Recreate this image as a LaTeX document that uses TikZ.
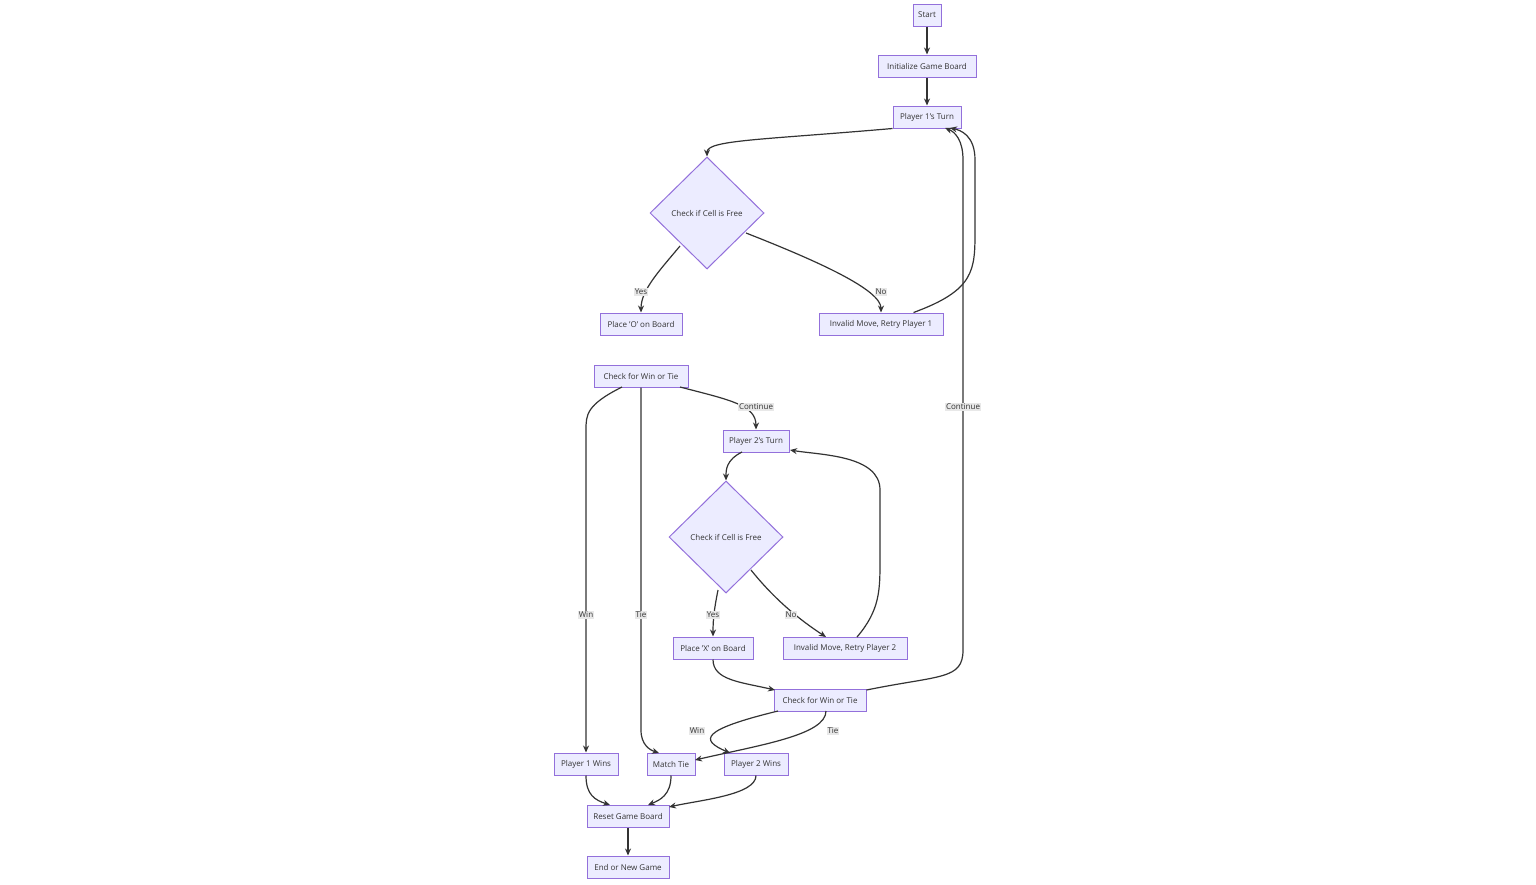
\documentclass[tikz,border=0pt]{standalone}
\usepackage{fontspec}
\setmainfont{Open Sans}
\usetikzlibrary{shapes.geometric,arrows.meta}
\definecolor{nf}{HTML}{ECECFF}
\definecolor{nb}{HTML}{9370DB}
\definecolor{ln}{HTML}{333333}
\definecolor{lb}{HTML}{E8E8E8}
\begin{document}
\begin{tikzpicture}[x=1pt,y=-1pt,
 box/.style={draw=nb,fill=nf,line width=1pt,inner sep=0pt,minimum height=22pt,font=\fontsize{8}{9}\selectfont,text=ln},
 dia/.style={diamond,draw=nb,fill=nf,line width=1pt,inner sep=0pt,minimum width=114pt,minimum height=112pt,font=\fontsize{8}{9}\selectfont,text=ln},
 e/.style={draw=ln,line width=1.2pt,-{Stealth[length=7pt,width=6pt]}},
 lab/.style={fill=lb,inner sep=1pt,font=\fontsize{8}{9}\selectfont,text=ln}]
\useasboundingbox[fill=white] (0,0) rectangle (1536,884);
\node[box,minimum width=28pt] (start) at (927,15) {Start};
\node[box,minimum width=98pt] (init) at (927,66) {Initialize Game Board};
\node[box,minimum width=68pt] (p1) at (927,117) {Player 1's Turn};
\node[dia] (d1) at (707,213) {Check if Cell is Free};
\node[box,minimum width=82pt] (po) at (641,324) {Place 'O' on Board};
\node[box,minimum width=124pt] (i1) at (881,324) {Invalid Move, Retry Player 1};
\node[box,minimum width=94pt] (c1) at (641,376) {Check for Win or Tie};
\node[box,minimum width=66pt] (p2) at (756,441) {Player 2's Turn};
\node[dia] (d2) at (726,537) {Check if Cell is Free};
\node[box,minimum width=80pt] (px) at (713,648) {Place 'X' on Board};
\node[box,minimum width=124pt] (i2) at (845,648) {Invalid Move, Retry Player 2};
\node[box,minimum width=92pt] (c2) at (820,700) {Check for Win or Tie};
\node[box,minimum width=64pt] (w1) at (586,764) {Player 1 Wins};
\node[box,minimum width=48pt] (mt) at (671,764) {Match Tie};
\node[box,minimum width=64pt] (w2) at (756,764) {Player 2 Wins};
\node[box,minimum width=82pt] (rs) at (628,816) {Reset Game Board};
\node[box,minimum width=82pt] (en) at (628,867) {End or New Game};

\draw[e] (start) -- (init);
\draw[e] (init) -- (p1);
\draw[e] (p1.south west) .. controls (760,140) and (707,140) .. (d1.north);
\draw[e] (680,246) .. controls (660,270) and (641,290) .. (po.north);
\draw[e] (746,233) .. controls (820,262) and (881,290) .. (i1.north);
\draw[e] (i1.north east) ++(-30,0) .. controls (975,290) and (975,270) .. (975,230) -- (975,160) .. controls (975,135) and (960,130) .. (950,128);
\draw[e] (c2.east) ++(0,-10) .. controls (940,675) and (963,680) .. (963,650) -- (963,160) .. controls (963,140) and (955,132) .. (945,128);
\draw[e] (680,387) .. controls (730,400) and (756,405) .. (p2.north);
\draw[e] (622,387) .. controls (586,405) and (586,415) .. (586,430) -- (w1.north);
\draw[e] (c1.south) -- (641,730) .. controls (641,745) and (650,750) .. (659,753);
\draw[e] (742,452) .. controls (726,460) and (726,470) .. (d2.north);
\draw[e] (718,590) .. controls (714,610) and (713,620) .. (px.north);
\draw[e] (751,570) .. controls (775,600) and (800,620) .. (826,637);
\draw[e] (857,637) .. controls (880,610) and (880,590) .. (880,560) -- (880,490) .. controls (880,455) and (820,455) .. (790,450);
\draw[e] (px.south) .. controls (713,680) and (740,682) .. (775,690);
\draw[e] (778,711) .. controls (700,730) and (700,740) .. (730,753);
\draw[e] (826,711) .. controls (826,735) and (760,745) .. (695,760);
\draw[e] (w1.south) .. controls (586,795) and (595,800) .. (610,805);
\draw[e] (mt.south) .. controls (671,795) and (660,800) .. (648,805);
\draw[e] (w2.south) .. controls (756,795) and (700,800) .. (669,807);
\draw[e] (rs) -- (en);

\node[lab] (l1) at (641,292) {Yes};
\node[lab] (l2) at (881,292) {No};
\node[lab] (l3) at (756,407) {Continue};
\node[lab] (l4) at (963,407) {Continue};
\node[lab] (l5) at (586,615) {Win};
\node[lab] (l6) at (641,615) {Tie};
\node[lab] (l7) at (713,615) {Yes};
\node[lab] (l8) at (791,615) {No};
\node[lab] (l9) at (697,731) {Win};
\node[lab] (l10) at (833,731) {Tie};
\end{tikzpicture}
\end{document}
